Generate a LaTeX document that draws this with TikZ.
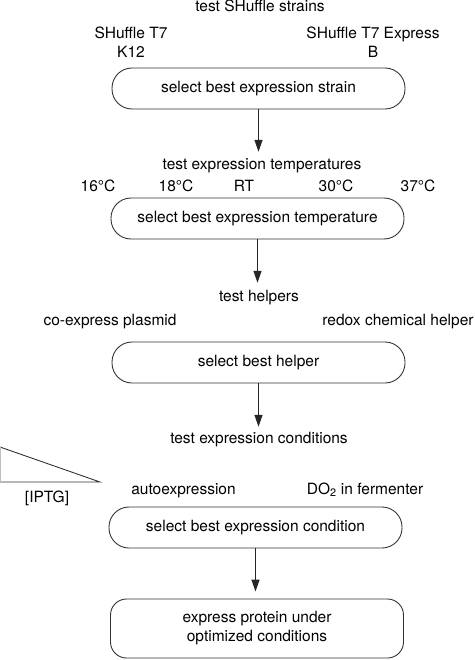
\documentclass[tikz,border=0pt]{standalone}
\usepackage{fontspec}
\setmainfont{TeX Gyre Heros}
\usepackage{tikz}
\usetikzlibrary{arrows.meta, positioning, calc}

\tikzset{
    stepbox/.style={draw=black!80, line width=0.9pt, rounded corners=20pt,
        minimum width=293pt, minimum height=41pt, align=center},
    lbl/.style={inner sep=3pt, text height=11pt, text depth=3pt, align=center},
    lbltwo/.style={inner sep=3pt, align=center},
    flow/.style={-{Triangle[length=12pt,width=8pt]}, line width=1.3pt, black!85}
}

\begin{document}
\begin{tikzpicture}[x=1pt, y=1pt, font=\fontsize{15.5}{19}\selectfont]
    \useasboundingbox (0,0) rectangle (474,-660);
    % Strains
    \node[lbl] (tstrain) at (260,-8) {test SHuffle strains};
    \node[lbltwo] (k12) at (131,-42) {SHuffle T7\\K12};
    \node[lbltwo] (bstr) at (373,-42) {SHuffle T7 Express\\B};
    \node[stepbox] (strain) at (258.5,-88.5) {select best expression strain};
    % Temperatures
    \node[lbl] (ttemp) at (262,-166) {test expression temperatures};
    \node[lbl] (t16) at (98,-188) {16°C};
    \node[lbl] (t18) at (176,-188) {18°C};
    \node[lbl] (trt) at (244,-188) {RT};
    \node[lbl] (t30) at (336,-188) {30°C};
    \node[lbl] (t37) at (418,-188) {37°C};
    \node[stepbox] (temp) at (257.5,-218.5) {select best expression temperature};
    % Helpers
    \node[lbl] (thelp) at (259,-297) {test helpers};
    \node[lbl] (plas) at (110,-321) {co-express plasmid};
    \node[lbl] (redox) at (398,-321) {redox chemical helper};
    \node[stepbox] (helper) at (258.5,-362.5) {select best helper};
    % Conditions
    \node[lbl] (tcond) at (259,-439) {test expression conditions};
    \node[lbl] (iptg) at (47,-498) {[IPTG]};
    \node[lbl] (auto) at (183.5,-490) {autoexpression};
    \node[lbl] (dox) at (365,-490) {DO\textsubscript{2} in fermenter};
    \node[stepbox] (cond) at (255.5,-527.5) {select best expression condition};
    \node[stepbox, minimum height=59pt, rounded corners=16pt] (final) at (257,-628.5)
        {express protein under\\optimized conditions};
    % IPTG wedge
    \draw[black!80, line width=0.9pt] (0,-447) -- (100,-482) -- (0,-482);
    \draw[black!25, line width=1.2pt] (0,-447) -- (0,-482);
    % Arrows
    \draw[flow, shorten >=4pt] (strain.south) -- (strain.south |- ttemp.north);
    \draw[flow, shorten >=4pt] (temp.south) -- (temp.south |- thelp.north);
    \draw[flow, shorten >=2pt] (helper.south) -- (helper.south |- tcond.north);
    \draw[flow, shorten >=7pt] (cond.south) -- (cond.south |- final.north);
\end{tikzpicture}
\end{document}
